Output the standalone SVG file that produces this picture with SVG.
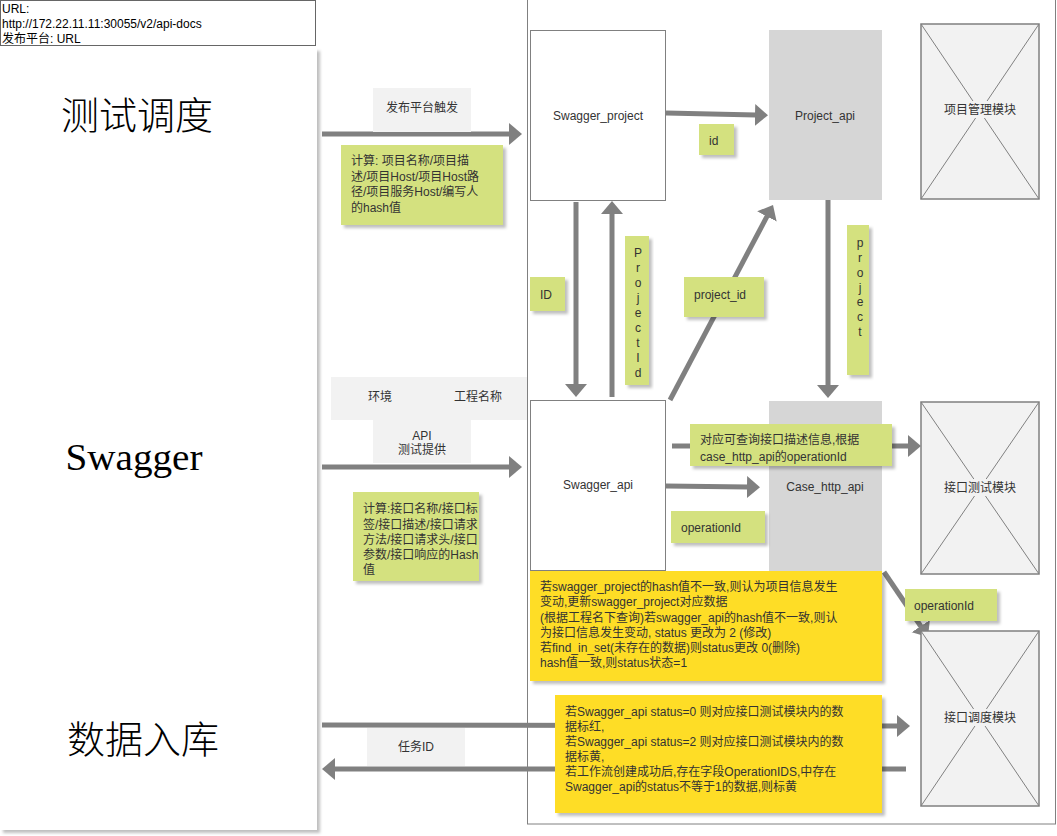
<svg xmlns="http://www.w3.org/2000/svg" width="1057" height="836" viewBox="0 0 1057 836">
<defs>
<style>
.t{font-family:"Liberation Sans",Arial,"Noto Sans CJK SC",sans-serif;font-size:12px;fill:#333}
.big{font-family:"Liberation Serif","Noto Sans CJK SC",serif;fill:#000;font-weight:300}
.c{text-anchor:middle}
.green{fill:#d4e17f;filter:url(#sh)}
.yellow{fill:#fedd25;filter:url(#sh)}
.lbl{fill:#f2f2f2}
.mod{fill:#f2f2f2;stroke:#808080;stroke-width:1.5}
.x{stroke:#808080;stroke-width:1}
.wbox{fill:#fff;stroke:#808080;stroke-width:1}
.gbox{fill:#d6d6d6}
.conn line{stroke:#808080;stroke-width:5;fill:none}
</style>
<filter id="sh" x="-10%" y="-10%" width="130%" height="130%">
<feDropShadow dx="3" dy="3" stdDeviation="1.5" flood-color="#000" flood-opacity="0.25"/>
</filter>
<marker id="ah" markerUnits="userSpaceOnUse" markerWidth="14" markerHeight="24" refX="1" refY="12" orient="auto">
<path d="M0,1 L13,12 L0,23 Z" fill="#808080"/>
</marker>
</defs>
<rect width="1057" height="836" fill="#fff"/>

<g id="url-box">
<rect x="0.5" y="0.5" width="315" height="45" fill="#fff" stroke="#666"/>
<text class="t" x="2" y="13" style="fill:#000">URL:</text>
<text class="t" x="2" y="28" style="fill:#000">http://172.22.11.11:30055/v2/api-docs</text>
<text class="t" x="2" y="43" style="fill:#000">发布平台: URL</text>
</g>

<g id="left-panel">
<rect x="0" y="48" width="317" height="782" fill="#fff" filter="url(#sh)"/>
<text class="big c" x="137" y="129" font-size="38">测试调度</text>
<text class="big c" x="134" y="470" font-size="38" textLength="137" lengthAdjust="spacingAndGlyphs">Swagger</text>
<text class="big c" x="143" y="753" font-size="38">数据入库</text>
</g>

<g id="frame">
<rect x="527.5" y="-1" width="528" height="825" fill="none" stroke="#808080" stroke-width="1"/>
</g>

<g id="project-api">
<rect class="gbox" x="769" y="30" width="113" height="170"/>
<text class="t c" x="825" y="120">Project_api</text>
</g>
<g id="case-http-api">
<rect class="gbox" x="769" y="401" width="113" height="172"/>
<text class="t c" x="825" y="491">Case_http_api</text>
</g>

<g class="conn" id="connectors">
<line x1="322" y1="134" x2="510" y2="134" marker-end="url(#ah)"/>
<line x1="666" y1="113" x2="756" y2="115" marker-end="url(#ah)"/>
<line x1="576" y1="202" x2="576" y2="385" marker-end="url(#ah)"/>
<line x1="612" y1="397" x2="612" y2="213" marker-end="url(#ah)"/>
<line x1="670" y1="400" x2="767.4" y2="215.6" marker-end="url(#ah)"/>
<line x1="828" y1="200" x2="828" y2="386" marker-end="url(#ah)"/>
<line x1="322" y1="467" x2="510" y2="467" marker-end="url(#ah)"/>
<line x1="666" y1="486" x2="748" y2="487" marker-end="url(#ah)"/>
<line x1="672" y1="446" x2="909" y2="446" marker-end="url(#ah)"/>
<line x1="884" y1="572" x2="921.3" y2="627" marker-end="url(#ah)"/>
<line x1="322" y1="725" x2="898" y2="726" marker-end="url(#ah)"/>
<line x1="906" y1="769" x2="334" y2="769" marker-end="url(#ah)"/>
</g>

<g id="swagger-project">
<rect class="wbox" x="530.5" y="30.5" width="135" height="170"/>
<text class="t c" x="598" y="120">Swagger_project</text>
</g>
<g id="swagger-api">
<rect class="wbox" x="530.5" y="400.5" width="135" height="170"/>
<text class="t c" x="598" y="489">Swagger_api</text>
</g>

<g id="mod-project">
<rect class="mod" x="921" y="24" width="118" height="175"/>
<line class="x" x1="921" y1="24" x2="1039" y2="199"/>
<line class="x" x1="1039" y1="24" x2="921" y2="199"/>
<rect x="944" y="101" width="72" height="17" fill="#f2f2f2"/>
<text class="t c" x="980" y="114">项目管理模块</text>
</g>
<g id="mod-test">
<rect class="mod" x="921" y="402" width="118" height="172"/>
<line class="x" x1="921" y1="402" x2="1039" y2="574"/>
<line class="x" x1="1039" y1="402" x2="921" y2="574"/>
<rect x="944" y="479" width="72" height="17" fill="#f2f2f2"/>
<text class="t c" x="980" y="492">接口测试模块</text>
</g>
<g id="mod-dispatch">
<rect class="mod" x="921" y="631" width="118" height="175"/>
<line class="x" x1="921" y1="631" x2="1039" y2="806"/>
<line class="x" x1="1039" y1="631" x2="921" y2="806"/>
<rect x="944" y="709" width="72" height="17" fill="#f2f2f2"/>
<text class="t c" x="980" y="722">接口调度模块</text>
</g>

<g id="lbl-trigger">
<rect class="lbl" x="373" y="88" width="98" height="44"/>
<text class="t c" x="422" y="112">发布平台触发</text>
</g>
<g id="note-project-hash">
<rect class="green" x="341" y="145" width="162" height="80"/>
<text class="t" x="351" y="165">计算: 项目名称/项目描</text>
<text class="t" x="351" y="181">述/项目Host/项目Host路</text>
<text class="t" x="351" y="196">径/项目服务Host/编写人</text>
<text class="t" x="351" y="212">的hash值</text>
</g>
<g id="lbl-id">
<rect class="green" x="699" y="124" width="35" height="31"/>
<text class="t" x="709" y="145">id</text>
</g>
<g id="lbl-ID">
<rect class="green" x="530" y="277" width="35" height="34"/>
<text class="t" x="540" y="299">ID</text>
</g>
<g id="lbl-projectId">
<rect class="green" x="625" y="236" width="24" height="149"/>
<text class="t c" x="638" y="257">P</text>
<text class="t c" x="638" y="272">r</text>
<text class="t c" x="638" y="287">o</text>
<text class="t c" x="638" y="302">j</text>
<text class="t c" x="638" y="317">e</text>
<text class="t c" x="638" y="332">c</text>
<text class="t c" x="638" y="347">t</text>
<text class="t c" x="638" y="362">I</text>
<text class="t c" x="638" y="377">d</text>
</g>
<g id="lbl-project_id">
<rect class="green" x="684" y="277" width="80" height="40"/>
<text class="t" x="694" y="299">project_id</text>
</g>
<g id="lbl-project">
<rect class="green" x="847" y="225" width="22" height="150"/>
<text class="t c" x="860" y="247">p</text>
<text class="t c" x="860" y="262">r</text>
<text class="t c" x="860" y="277">o</text>
<text class="t c" x="860" y="292">j</text>
<text class="t c" x="860" y="306">e</text>
<text class="t c" x="860" y="321">c</text>
<text class="t c" x="860" y="336">t</text>
</g>

<g id="lbl-env">
<rect class="lbl" x="331" y="377" width="196" height="43"/>
<text class="t c" x="380" y="401">环境</text>
<text class="t c" x="478" y="401">工程名称</text>
</g>
<g id="lbl-api">
<rect class="lbl" x="373" y="420" width="98" height="43"/>
<text class="t c" x="422" y="440">API</text>
<text class="t c" x="422" y="454">测试提供</text>
</g>
<g id="note-api-hash">
<rect class="green" x="353" y="492" width="126" height="89"/>
<text class="t" x="363" y="513">计算:接口名称/接口标</text>
<text class="t" x="363" y="529">签/接口描述/接口请求</text>
<text class="t" x="363" y="544">方法/接口请求头/接口</text>
<text class="t" x="363" y="559">参数/接口响应的Hash</text>
<text class="t" x="363" y="574">值</text>
</g>
<g id="lbl-query">
<rect class="green" x="690" y="424" width="202" height="42"/>
<text class="t" x="700" y="444">对应可查询接口描述信息,根据</text>
<text class="t" x="700" y="461">case_http_api的operationId</text>
</g>
<g id="lbl-operationId-1">
<rect class="green" x="671" y="511" width="94" height="32"/>
<text class="t" x="681" y="532">operationId</text>
</g>
<g id="lbl-operationId-2">
<rect class="green" x="905" y="589" width="92" height="32"/>
<text class="t" x="914" y="610">operationId</text>
</g>

<g id="note-status">
<rect class="yellow" x="530" y="571" width="352" height="110"/>
<text class="t" x="540" y="591">若swagger_project的hash值不一致,则认为项目信息发生</text>
<text class="t" x="540" y="606">变动,更新swagger_project对应数据</text>
<text class="t" x="540" y="622">(根据工程名下查询)若swagger_api的hash值不一致,则认</text>
<text class="t" x="540" y="637">为接口信息发生变动, status 更改为 2 (修改)</text>
<text class="t" x="540" y="652">若find_in_set(未存在的数据)则status更改 0(删除)</text>
<text class="t" x="540" y="667">hash值一致,则status状态=1</text>
</g>
<g id="note-mark">
<rect class="yellow" x="555" y="695" width="327" height="118"/>
<text class="t" x="565" y="716">若Swagger_api status=0 则对应接口测试模块内的数</text>
<text class="t" x="565" y="731">据标红,</text>
<text class="t" x="565" y="746">若Swagger_api status=2 则对应接口测试模块内的数</text>
<text class="t" x="565" y="761">据标黄,</text>
<text class="t" x="565" y="776">若工作流创建成功后,存在字段OperationIDS,中存在</text>
<text class="t" x="565" y="791">Swagger_api的status不等于1的数据,则标黄</text>
</g>
<g id="lbl-taskid">
<rect class="lbl" x="367" y="728" width="98" height="38"/>
<text class="t c" x="416" y="751">任务ID</text>
</g>
</svg>
